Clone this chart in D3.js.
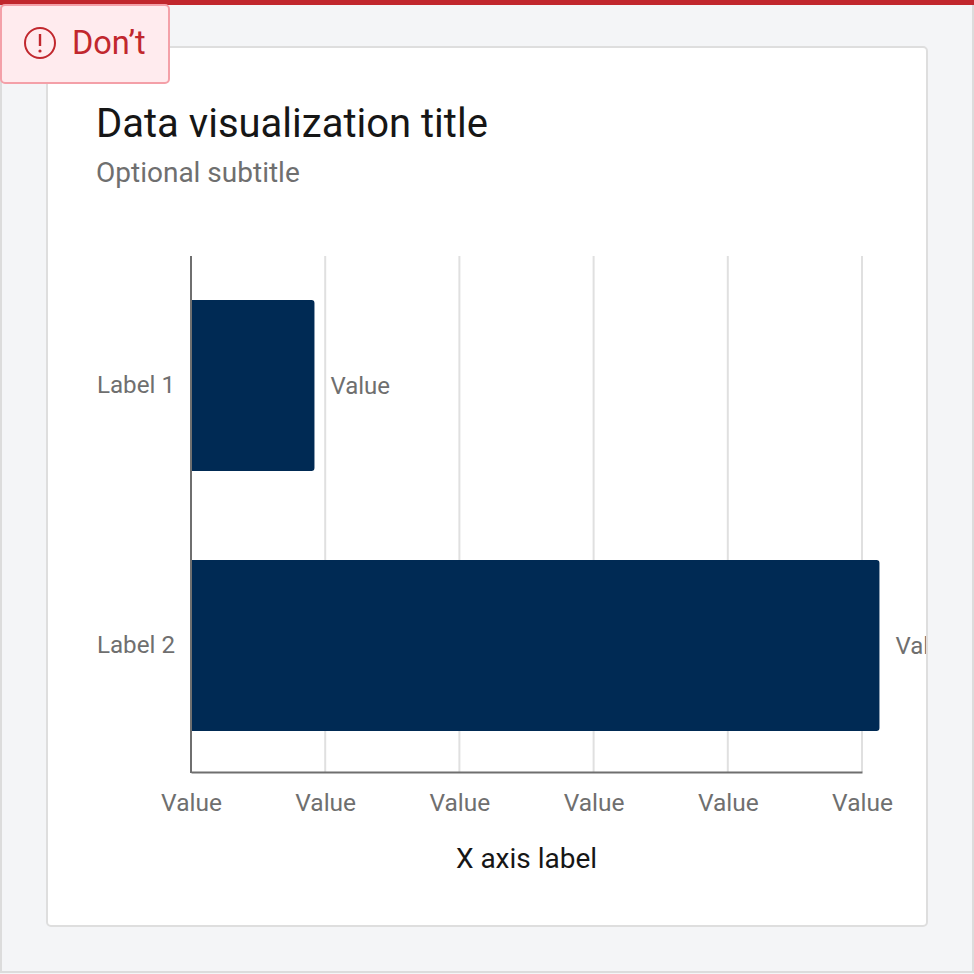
<!DOCTYPE html>
<html><head><meta charset="utf-8">
<script src="https://cdn.jsdelivr.net/npm/d3@7"></script>
<style>
html,body{margin:0;padding:0;background:#f4f5f7;}
svg{display:block;font-family:Roboto,"Noto Sans",sans-serif;}
</style></head>
<body>
<svg id="c" width="974" height="974"></svg>
<script>
const categories = ["Label 1", "Label 2"];
const values = [0.92, 5.13];
const tickValues = [0, 1, 2, 3, 4, 5];
const tickLabels = ["Value", "Value", "Value", "Value", "Value", "Value"];
const valueLabels = ["Value", "Value"];
const title = "Data visualization title";
const subtitle = "Optional subtitle";
const xAxisLabel = "X axis label";
const badgeText = "Don\u2019t";

const svg = d3.select("#c");
// outer frame
svg.append("rect").attr("x",0).attr("y",0).attr("width",974).attr("height",974).attr("fill","#f4f5f7");
svg.append("rect").attr("x",1).attr("y",1).attr("width",972).attr("height",971).attr("fill","none").attr("stroke","#dcdcdc").attr("stroke-width",2);
svg.append("rect").attr("x",0).attr("y",0).attr("width",974).attr("height",5).attr("fill","#c1272d");

// card
svg.append("rect").attr("x",47).attr("y",47).attr("width",880).attr("height",879).attr("rx",4)
  .attr("fill","#fff").attr("stroke","#dedede").attr("stroke-width",2);

const defs = svg.append("defs");
defs.append("clipPath").attr("id","cardClip").append("rect").attr("x",48).attr("y",48).attr("width",878).attr("height",877);

const g = svg.append("g").attr("clip-path","url(#cardClip)");

g.append("text").attr("x",96).attr("y",137).attr("font-size",40).attr("fill","#161616").text(title);
g.append("text").attr("x",96).attr("y",182).attr("font-size",28).attr("fill","#6f6f6f").text(subtitle);

const pLeft = 191, pRight = 862, pTop = 256, pBottom = 772;
const x = d3.scaleLinear().domain([0,5]).range([pLeft,pRight]);
const y = d3.scaleBand().domain(categories).range([pTop,775]).paddingInner(0.342).paddingOuter(0.169);

// gridlines
g.append("g").selectAll("line").data(tickValues.slice(1)).join("line")
  .attr("x1",d=>x(d)).attr("x2",d=>x(d)).attr("y1",pTop).attr("y2",pBottom)
  .attr("stroke","#e0e0e0").attr("stroke-width",2);

// bars
g.append("g").selectAll("path").data(values).join("path")
  .attr("fill","#002a54")
  .attr("d",(d,i)=>{
    const x0=x(0), x1=x(d), y0=y(categories[i]), h=y.bandwidth(), r=3;
    return `M${x0},${y0}H${x1-r}Q${x1},${y0} ${x1},${y0+r}V${y0+h-r}Q${x1},${y0+h} ${x1-r},${y0+h}H${x0}Z`;
  });

// value labels
g.append("g").selectAll("text").data(values).join("text")
  .attr("x",d=>x(d)+16).attr("y",(d,i)=>y(categories[i])+y.bandwidth()/2)
  .attr("dy","0.35em").attr("font-size",24).attr("fill","#6f6f6f")
  .text((d,i)=>valueLabels[i]);

// axes
const xAxis = d3.axisBottom(x).tickValues(tickValues).tickSize(0).tickPadding(22).tickFormat((d,i)=>tickLabels[i]);
const xg = g.append("g").attr("transform",`translate(0,${pBottom})`).call(xAxis);
xg.select(".domain").attr("stroke","#6f6f6f").attr("stroke-width",2);
xg.selectAll("text").attr("font-size",24.5).attr("fill","#6f6f6f").attr("font-family","Roboto");

const yAxis = d3.axisLeft(y).tickSize(0).tickPadding(16);
const yg = g.append("g").attr("transform",`translate(${pLeft},0)`).call(yAxis);
yg.select(".domain").remove();
yg.selectAll("text").attr("font-size",24.2).attr("fill","#6f6f6f").attr("font-family","Roboto");
g.append("line").attr("x1",pLeft).attr("x2",pLeft).attr("y1",pTop).attr("y2",pBottom+1)
  .attr("stroke","#6f6f6f").attr("stroke-width",2);

g.append("text").attr("x",(pLeft+pRight)/2).attr("y",868).attr("text-anchor","middle")
  .attr("font-size",28).attr("fill","#161616").text(xAxisLabel);

// badge
const b = svg.append("g");
b.append("rect").attr("x",1).attr("y",5).attr("width",168).attr("height",78).attr("rx",4)
  .attr("fill","#ffebee").attr("stroke","#f4a0a8").attr("stroke-width",2);
b.append("circle").attr("cx",40).attr("cy",43).attr("r",15).attr("fill","none").attr("stroke","#c1272d").attr("stroke-width",2);
b.append("line").attr("x1",40).attr("x2",40).attr("y1",34).attr("y2",46).attr("stroke","#c1272d").attr("stroke-width",2.4);
b.append("circle").attr("cx",40).attr("cy",51).attr("r",1.6).attr("fill","#c1272d");
b.append("text").attr("x",72).attr("y",54).attr("font-size",32.5).attr("fill","#c1272d").text(badgeText);
</script>
</body></html>
